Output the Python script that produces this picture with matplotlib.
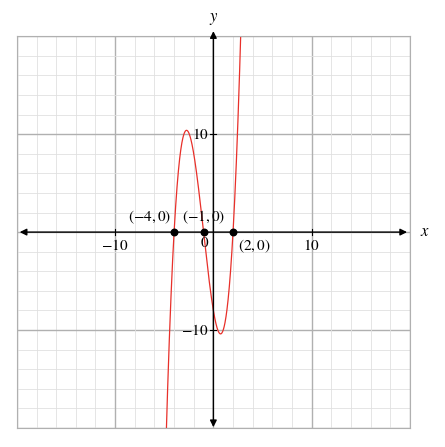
import numpy as np
import matplotlib.pyplot as plt

# cubic y = x^3 + 3x^2 - 6x - 8 (roots -4, -1, 2)
coeffs = [1, 3, -6, -8]
roots_x = [-4, -1, 2]
root_labels = ["$(-4,0)$", "$(-1,0)$", "$(2,0)$"]
xticks = [-10, 10]
yticks = [-10, 10]

plt.rcParams['font.family'] = ['Liberation Serif', 'DejaVu Serif']
plt.rcParams['mathtext.fontset'] = 'stix'

fig = plt.figure(figsize=(4.45, 4.47), dpi=100)
ax = fig.add_axes([0.038, 0.0425, 0.883, 0.8765])
ax.set_xlim(-20, 20)
ax.set_ylim(-20, 20)

for v in np.arange(-20, 21, 2):
    major = v % 10 == 0
    c = '#b0b0b0' if major else '#e0e0e0'
    lw = 1.0 if major else 0.6
    ax.axvline(v, color=c, lw=lw, zorder=0)
    ax.axhline(v, color=c, lw=lw, zorder=0)

for s in ax.spines.values():
    s.set_color('#b0b0b0')
ax.set_xticks([])
ax.set_yticks([])

# axes with arrows
arr = dict(arrowstyle='<|-|>', color='black', lw=1.0, mutation_scale=10)
ax.annotate('', xy=(20.0, 0), xytext=(-20.0, 0), arrowprops=arr, annotation_clip=False)
ax.annotate('', xy=(0, 20.8), xytext=(0, -20.2), arrowprops=arr, annotation_clip=False)
ax.text(21.0, 0, '$x$', fontsize=12, va='center', ha='left')
ax.text(0, 20.9, '$y$', fontsize=12, va='bottom', ha='center')

x = np.linspace(-6, 4, 800)
y = np.polyval(coeffs, x)
ax.plot(x, y, color='#e8302a', lw=0.9, clip_on=True)

for t in xticks:
    ax.plot([t, t], [-0.3, 0.3], color='black', lw=0.8)
    ax.text(t, -0.6, f'${t}$', ha='center', va='top', fontsize=11)
for t in yticks:
    ax.plot([-0.3, 0.3], [t, t], color='black', lw=0.8)
    ax.text(-0.5, t, f'${t}$', ha='right', va='center', fontsize=11)
ax.text(-0.4, -0.4, '$0$', ha='right', va='top', fontsize=11)

ax.scatter(roots_x, [0, 0, 0], color='black', s=22, zorder=5)
ax.text(-4.3, 0.6, root_labels[0], ha='right', va='bottom', fontsize=11)
ax.text(-1, 0.6, root_labels[1], ha='center', va='bottom', fontsize=11)
ax.text(2.5, -0.6, root_labels[2], ha='left', va='top', fontsize=11)

fig.savefig('out.png', dpi=100)
